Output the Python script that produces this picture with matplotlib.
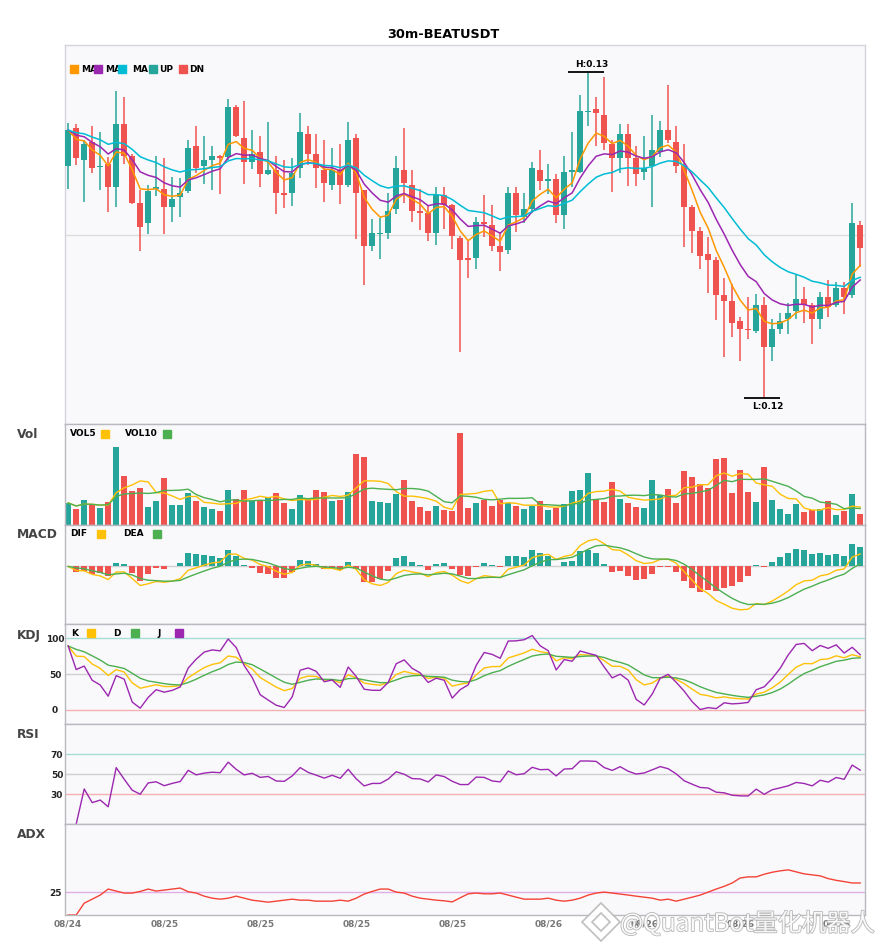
import numpy as np
import pandas as pd
import matplotlib
matplotlib.use('Agg')
import matplotlib.pyplot as plt
from matplotlib.patches import Rectangle
from matplotlib.lines import Line2D
import matplotlib.patheffects as pe

plt.rcParams['font.family'] = ['DejaVu Sans']

# ---- data (30m candles) ----
times = pd.date_range('2024-08-24 18:00', periods=100, freq='30min')

open_ = [0.12712, 0.12828, 0.12730, 0.12785, 0.12709, 0.12718, 0.12647, 0.12840, 0.12742, 0.12598,
         0.12537, 0.12641, 0.12641, 0.12586, 0.12617, 0.12635, 0.12773, 0.12712, 0.12730, 0.12742,
         0.12739, 0.12893, 0.12798, 0.12724, 0.12755, 0.12687, 0.12699, 0.12629, 0.12629, 0.12706,
         0.12810, 0.12748, 0.12699, 0.12653, 0.12699, 0.12653, 0.12798, 0.12638, 0.12466, 0.12503,
         0.12506, 0.12580, 0.12699, 0.12653, 0.12574, 0.12567, 0.12506, 0.12623, 0.12592, 0.12491,
         0.12429, 0.12429, 0.12540, 0.12531, 0.12466, 0.12454, 0.12629, 0.12555, 0.12580, 0.12699,
         0.12666, 0.12672, 0.12561, 0.12693, 0.12693, 0.12877, 0.12887, 0.12868, 0.12779, 0.12736,
         0.12810, 0.12736, 0.12693, 0.12712, 0.12755, 0.12822, 0.12785, 0.12712, 0.12586, 0.12512,
         0.12442, 0.12423, 0.12316, 0.12298, 0.12236, 0.12212, 0.12206, 0.12285, 0.12156, 0.12212,
         0.12242, 0.12267, 0.12304, 0.12285, 0.12242, 0.12310, 0.12285, 0.12337, 0.12316, 0.12531]

high = [0.12844, 0.12840, 0.12791, 0.12834, 0.12816, 0.12739, 0.12942, 0.12923, 0.12748, 0.12638,
        0.12653, 0.12742, 0.12736, 0.12678, 0.12675, 0.12791, 0.12834, 0.12804, 0.12773, 0.12745,
        0.12917, 0.12899, 0.12911, 0.12822, 0.12804, 0.12847, 0.12742, 0.12730, 0.12736, 0.12874,
        0.12834, 0.12810, 0.12791, 0.12767, 0.12779, 0.12847, 0.12810, 0.12638, 0.12549, 0.12552,
        0.12629, 0.12742, 0.12828, 0.12699, 0.12641, 0.12592, 0.12647, 0.12647, 0.12595, 0.12497,
        0.12485, 0.12555, 0.12623, 0.12592, 0.12509, 0.12647, 0.12647, 0.12629, 0.12724, 0.12761,
        0.12718, 0.12687, 0.12742, 0.12816, 0.12929, 0.13000, 0.12923, 0.12985, 0.12791, 0.12840,
        0.12840, 0.12773, 0.12804, 0.12868, 0.12850, 0.12960, 0.12834, 0.12779, 0.12592, 0.12525,
        0.12494, 0.12433, 0.12368, 0.12350, 0.12248, 0.12310, 0.12319, 0.12310, 0.12242, 0.12261,
        0.12291, 0.12380, 0.12341, 0.12291, 0.12325, 0.12362, 0.12356, 0.12356, 0.12598, 0.12543]

low = [0.12641, 0.12715, 0.12601, 0.12690, 0.12638, 0.12571, 0.12586, 0.12718, 0.12595, 0.12451,
       0.12503, 0.12620, 0.12503, 0.12540, 0.12555, 0.12629, 0.12690, 0.12656, 0.12638, 0.12626,
       0.12730, 0.12801, 0.12656, 0.12702, 0.12647, 0.12684, 0.12564, 0.12583, 0.12589, 0.12675,
       0.12715, 0.12644, 0.12601, 0.12638, 0.12595, 0.12647, 0.12488, 0.12347, 0.12451, 0.12426,
       0.12488, 0.12564, 0.12598, 0.12540, 0.12515, 0.12482, 0.12469, 0.12518, 0.12457, 0.12141,
       0.12368, 0.12396, 0.12494, 0.12451, 0.12390, 0.12442, 0.12509, 0.12537, 0.12567, 0.12638,
       0.12626, 0.12537, 0.12518, 0.12647, 0.12690, 0.12834, 0.12773, 0.12761, 0.12632, 0.12690,
       0.12650, 0.12650, 0.12669, 0.12586, 0.12739, 0.12782, 0.12690, 0.12463, 0.12445, 0.12396,
       0.12322, 0.12239, 0.12126, 0.12187, 0.12114, 0.12181, 0.12199, 0.12000, 0.12114, 0.12196,
       0.12196, 0.12242, 0.12230, 0.12166, 0.12212, 0.12248, 0.12279, 0.12258, 0.12307, 0.12402]

close = [0.12822, 0.12736, 0.12779, 0.12706, 0.12712, 0.12647, 0.12840, 0.12742, 0.12598, 0.12525,
         0.12635, 0.12647, 0.12586, 0.12610, 0.12629, 0.12767, 0.12706, 0.12730, 0.12742, 0.12736,
         0.12893, 0.12804, 0.12724, 0.12748, 0.12687, 0.12699, 0.12629, 0.12623, 0.12690, 0.12816,
         0.12748, 0.12706, 0.12660, 0.12699, 0.12653, 0.12791, 0.12629, 0.12466, 0.12506, 0.12506,
         0.12574, 0.12706, 0.12660, 0.12574, 0.12567, 0.12506, 0.12623, 0.12592, 0.12497, 0.12423,
         0.12423, 0.12540, 0.12534, 0.12466, 0.12448, 0.12629, 0.12561, 0.12580, 0.12706, 0.12666,
         0.12672, 0.12561, 0.12693, 0.12699, 0.12880, 0.12880, 0.12874, 0.12782, 0.12736, 0.12810,
         0.12736, 0.12687, 0.12706, 0.12761, 0.12822, 0.12791, 0.12712, 0.12586, 0.12512, 0.12436,
         0.12423, 0.12316, 0.12298, 0.12230, 0.12212, 0.12209, 0.12285, 0.12156, 0.12212, 0.12236,
         0.12261, 0.12304, 0.12285, 0.12242, 0.12310, 0.12279, 0.12337, 0.12310, 0.12537, 0.12460]

# volume in thousands
vol_k = [217, 157, 243, 197, 163, 223, 763, 483, 337, 363,
         173, 237, 463, 193, 193, 317, 237, 173, 157, 137,
         343, 253, 343, 233, 243, 273, 317, 217, 153, 293,
         257, 343, 323, 237, 243, 323, 697, 673, 233, 223,
         213, 303, 443, 237, 173, 137, 183, 143, 133, 903,
         163, 213, 243, 183, 243, 213, 183, 153, 183, 233,
         143, 163, 203, 333, 343, 513, 253, 223, 423, 253,
         213, 173, 163, 443, 293, 353, 213, 533, 473, 403,
         363, 653, 663, 313, 543, 323, 223, 573, 243, 153,
         113, 203, 123, 143, 153, 233, 103, 133, 303, 113]

adx = [0, 0, 13.0, 17.4, 21.9, 28.5, 26.3, 24.1, 24.1, 25.9,
       28.5, 26.3, 27.4, 28.5, 29.6, 25.6, 24.1, 20.7, 18.5, 17.4,
       18.5, 20.7, 18.5, 16.3, 15.2, 14.1, 15.2, 16.3, 17.4, 16.3,
       16.3, 15.2, 15.2, 15.2, 16.3, 15.2, 18.5, 23.0, 25.9, 28.5,
       28.5, 25.2, 24.1, 20.7, 18.5, 17.4, 16.3, 15.6, 14.4, 18.9,
       23.3, 24.1, 23.3, 23.3, 24.1, 21.9, 19.6, 17.4, 17.4, 17.4,
       18.5, 16.3, 15.2, 16.3, 18.5, 21.9, 24.1, 25.2, 24.1, 23.0,
       21.9, 20.7, 19.6, 18.5, 16.3, 17.4, 15.2, 17.4, 19.6, 21.9,
       25.2, 28.5, 31.5, 35.2, 40.7, 41.9, 41.9, 44.8, 47.0, 48.5,
       49.6, 47.4, 45.2, 44.1, 43.0, 40.0, 38.1, 36.7, 35.2, 35.2]

UP = '#26a69a'
DN = '#ef5350'
YEL = '#ffc107'
GRN = '#4caf50'
PUR = '#9c27b0'
BG = '#f9f9fb'

df = pd.DataFrame({'open': open_, 'high': high, 'low': low, 'close': close,
                   'vol': np.array(vol_k) * 1000.0, 'adx': adx}, index=times)
x = np.arange(len(df))
c = df['close']
up = (df['close'] >= df['open']).values
cols = np.where(up, UP, DN)

# indicators
ema5 = c.ewm(span=5, adjust=False).mean()
ema10 = c.ewm(span=10, adjust=False).mean()
ema20 = c.ewm(span=20, adjust=False).mean()
vol5 = df['vol'].rolling(5, min_periods=1).mean()
vol10 = df['vol'].rolling(10, min_periods=1).mean()
dif = c.ewm(span=6, adjust=False).mean() - c.ewm(span=13, adjust=False).mean()
dea = dif.ewm(span=5, adjust=False).mean()
macd = 2 * (dif - dea)
llv = df['low'].rolling(9, min_periods=1).min()
hhv = df['high'].rolling(9, min_periods=1).max()
rsv = (c - llv) / (hhv - llv) * 100
k = rsv.ewm(com=2, adjust=False).mean()
d = k.ewm(com=2, adjust=False).mean()
j = 3 * k - 2 * d
delta = c.diff()
gain = delta.clip(lower=0).ewm(alpha=1 / 14).mean()
loss = (-delta.clip(upper=0)).ewm(alpha=1 / 14).mean()
rsi = 100 - 100 / (1 + gain / loss)

W, H = 885, 950
fig = plt.figure(figsize=(W / 100, H / 100), dpi=100)


def rect(top, bottom, left=65, right=865):
    return [left / W, 1 - bottom / H, (right - left) / W, (bottom - top) / H]


def fpx(px, py):
    return px / W, 1 - py / H


ax = fig.add_axes(rect(45, 424))
axv = fig.add_axes(rect(424, 525), sharex=ax)
axm = fig.add_axes(rect(525, 624), sharex=ax)
axk = fig.add_axes(rect(624, 724), sharex=ax)
axr = fig.add_axes(rect(724, 824), sharex=ax)
axa = fig.add_axes(rect(824, 915), sharex=ax)
panels = [ax, axv, axm, axk, axr, axa]

for a in panels:
    a.set_facecolor(BG)
    for s in a.spines.values():
        s.set_color('#b8b8c0' if a is not ax else '#d4d4dc')
        s.set_linewidth(1)
    a.tick_params(axis='x', length=0, labelbottom=False)
    a.tick_params(axis='y', length=0)
ax.set_xlim(-0.4, 99.6)

# ---- candles ----
hi = df['high'].max()
lo = df['low'].min()
rng = hi - lo
body_lo = np.minimum(df['open'], df['close']).values
body_h = np.maximum(np.abs(df['close'] - df['open']).values, rng * 0.003)
ax.vlines(x, df['low'], df['high'], colors=cols, linewidth=1.1, zorder=2)
ax.bar(x, body_h, bottom=body_lo, width=0.75, color=cols, zorder=3)
ax.plot(x, ema5, color='#ff9800', lw=1.1, zorder=4)
ax.plot(x, ema10, color=PUR, lw=1.1, zorder=4)
ax.plot(x, ema20, color='#00bcd4', lw=1.1, zorder=4)
ax.set_ylim(lo - 0.08 * rng, hi + 0.083 * rng)
ax.set_yticks([(hi + lo) / 2])
ax.tick_params(axis='y', labelleft=False)
ax.grid(axis='y', color='#dcdcdc', lw=1)
ax.grid(axis='x', visible=False)

ih = int(np.argmax(df['high'].values))
il = int(np.argmin(df['low'].values))
ax.hlines(hi, ih - 2.5, ih + 2, color='black', lw=1.3, zorder=5)
ax.hlines(lo, il - 2.5, il + 2, color='black', lw=1.3, zorder=5)
ax.annotate(f'H:{hi:.2f}', xy=(ih + 0.5, hi), xytext=(0, 2), textcoords='offset points',
            ha='center', va='bottom', fontsize=6.5, fontweight='bold')
ax.annotate(f'L:{lo:.2f}', xy=(il + 0.5, lo), xytext=(0, -3), textcoords='offset points',
            ha='center', va='top', fontsize=6.5, fontweight='bold')

# ---- volume ----
axv.bar(x, df['vol'], width=0.75, color=cols)
axv.plot(x, vol5, color=YEL, lw=1)
axv.plot(x, vol10, color=GRN, lw=1)
axv.set_ylim(0, df['vol'].max() * 1.1)
axv.set_yticks([])

# ---- MACD ----
axm.bar(x, macd, width=0.75, color=np.where(macd >= 0, UP, DN))
axm.plot(x, dif, color=YEL, lw=1)
axm.plot(x, dea, color=GRN, lw=1)
axm.axhline(0, color='#d0d0d0', lw=1, zorder=0)
mlo = min(dif.min(), dea.min(), macd.min())
mhi = max(dif.max(), dea.max(), macd.max())
axm.set_ylim(mlo - 0.2 * (mhi - mlo), mhi + 0.2 * (mhi - mlo))
axm.set_yticks([])

# ---- KDJ ----
axk.axhline(100, color='#a6dcd8', lw=1)
axk.axhline(50, color='#d0d0d0', lw=1)
axk.axhline(0, color='#f5b0b0', lw=1)
axk.plot(x, k, color=YEL, lw=1)
axk.plot(x, d, color=GRN, lw=1)
axk.plot(x, j, color=PUR, lw=1)
axk.set_ylim(-20, 120)
axk.set_yticks([0, 50, 100])

# ---- RSI ----
axr.axhline(70, color='#a6dcd8', lw=1)
axr.axhline(50, color='#d0d0d0', lw=1)
axr.axhline(30, color='#f5b0b0', lw=1)
axr.plot(x, rsi, color=PUR, lw=1)
axr.set_ylim(0, 100)
axr.set_yticks([30, 50, 70])

# ---- ADX ----
axa.axhline(25, color='#e2aee8', lw=1)
axa.plot(x, df['adx'], color='#f44336', lw=1)
axa.set_ylim(0, 100)
axa.set_yticks([25])

for a, pad in ((axk, 7.2), (axr, 5.8), (axa, 7.2)):
    a.tick_params(axis='y', pad=pad, labelsize=6.5, labelcolor='#222222')
    for t in a.get_yticklabels():
        t.set_fontweight('bold')
        t.set_ha('center')

ticks = x[::12]
axa.set_xticks(ticks)
axa.set_xticklabels([times[i].strftime('%m/%d') for i in ticks])
axa.tick_params(axis='x', labelbottom=True, labelsize=6.5, pad=3, labelcolor='#777777')
for t in axa.get_xticklabels():
    t.set_fontweight('bold')

# ---- titles / labels / legends ----
fig.text(*fpx(443, 34), '30m-BEATUSDT', ha='center', va='center', fontsize=9.3, fontweight='bold')
for name, py in (('Vol', 435), ('MACD', 535), ('KDJ', 635), ('RSI', 735), ('ADX', 835)):
    fig.text(*fpx(17, py), name, ha='left', va='center', fontsize=8.8, fontweight='bold', color='#444444')


def square(px, py, color, size=7.5):
    fig.patches.append(Rectangle(fpx(px, py + size / 2), size / W, size / H,
                                 transform=fig.transFigure, color=color, zorder=10))


def label(px, py, s):
    fig.text(*fpx(px, py), s, ha='left', va='center', fontsize=6.5, fontweight='bold', zorder=9)


ly = 69
for sx, tx, col, s in ((70, 81, '#ff9800', 'MA'), (94, 105, PUR, 'MA'), (118, 132, '#00bcd4', 'MA'),
                       (149, 159, UP, 'UP'), (179, 189, DN, 'DN')):
    square(sx, ly, col)
    label(tx, ly, s)

for tx, sx, col, s, py in ((70, 101, YEL, 'VOL5', 434), (125, 163, GRN, 'VOL10', 434),
                           (70, 97, YEL, 'DIF', 534), (123, 153, GRN, 'DEA', 534),
                           (71, 87, YEL, 'K', 633), (113, 131, GRN, 'D', 633), (157, 175, PUR, 'J', 633)):
    label(tx, py, s)
    square(sx, py, col)

# watermark (logo + handle)
for ms in (19, 9):
    fig.lines.append(Line2D([fpx(601, 922)[0]], [fpx(601, 922)[1]], marker='D', markersize=ms,
                            markerfacecolor='white', markeredgecolor='#b8b8b8', markeredgewidth=1.2,
                            alpha=0.9, transform=fig.transFigure, zorder=11))
fig.text(*fpx(620, 924), '@QuantBot量化机器人', ha='left', va='center', fontsize=17.5,
         family=['Noto Sans CJK SC', 'DejaVu Sans'], color='white', alpha=0.9, zorder=12,
         path_effects=[pe.withStroke(linewidth=1.2, foreground='#b0b0b0')])

fig.savefig('out.png', dpi=100, facecolor='white')
